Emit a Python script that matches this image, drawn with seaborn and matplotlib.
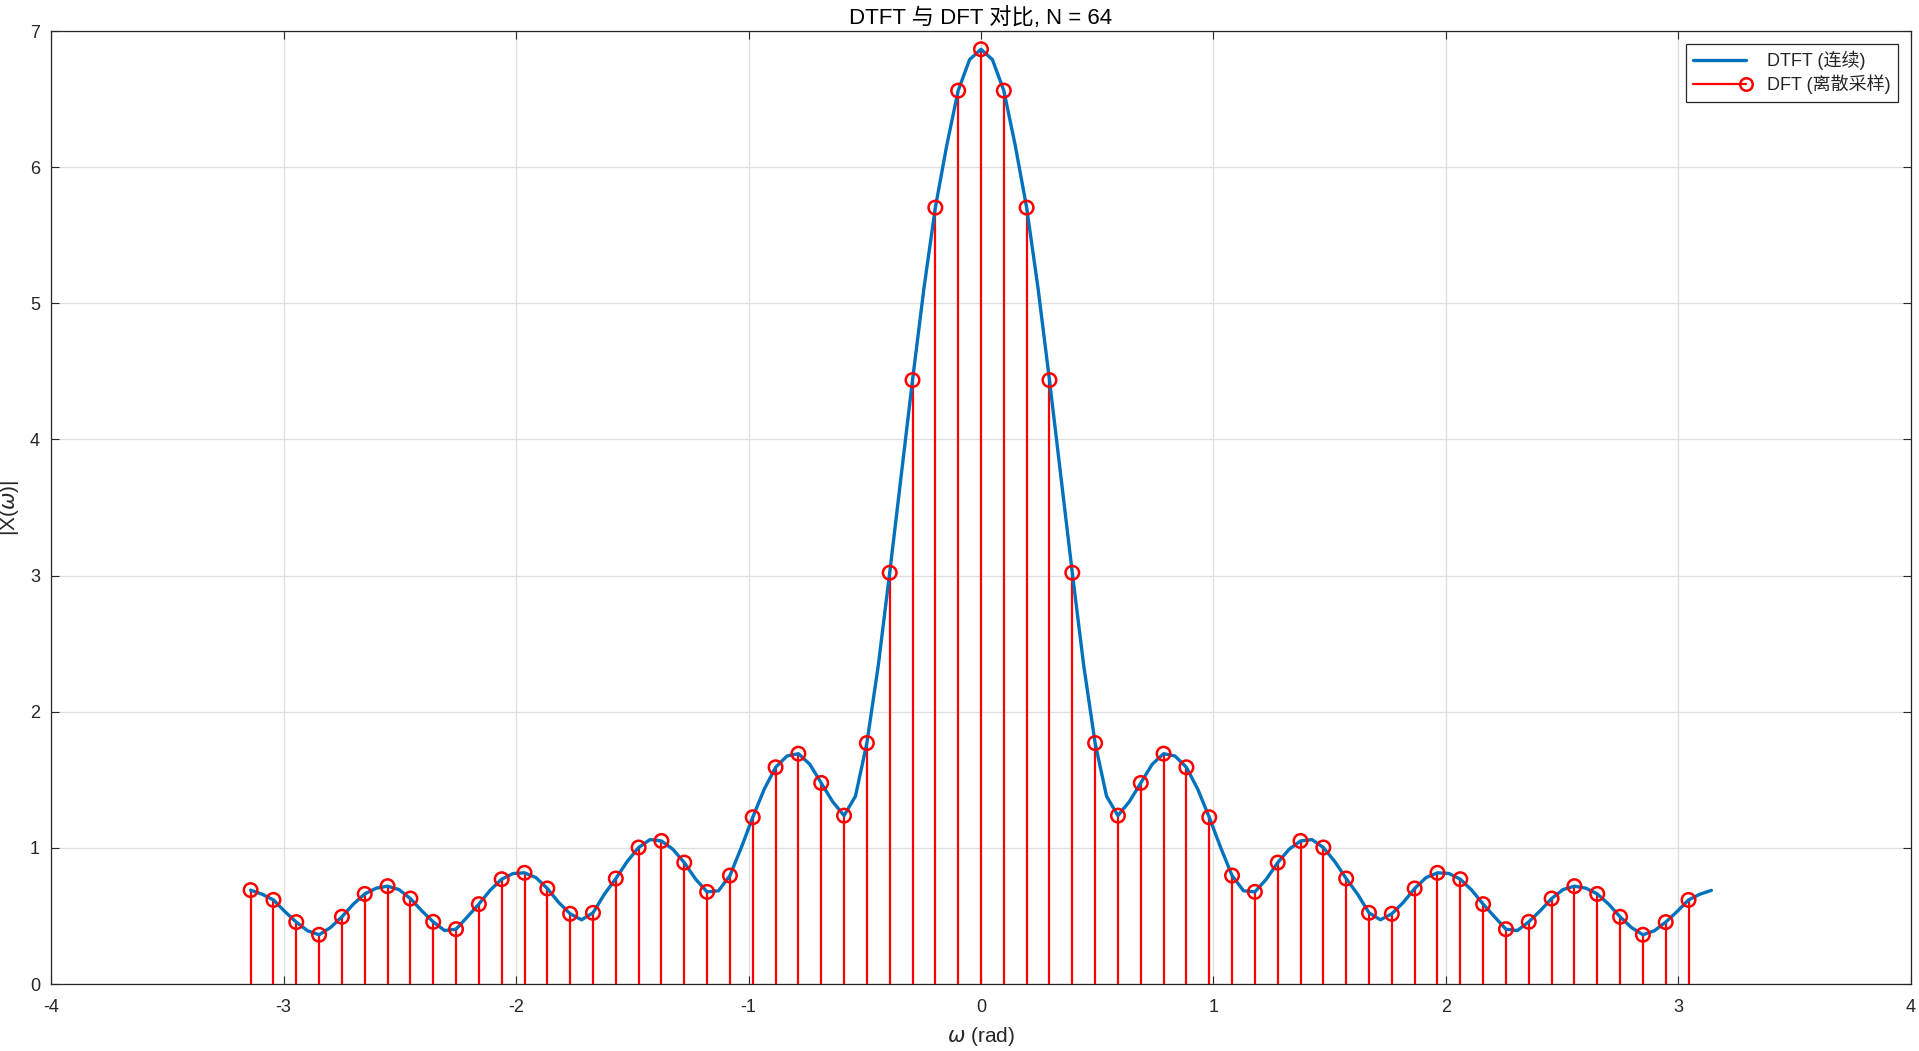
import numpy as np
import pandas as pd
import matplotlib
matplotlib.use("Agg")
import matplotlib.pyplot as plt
from matplotlib.lines import Line2D
from matplotlib.legend_handler import HandlerLine2D
import seaborn as sns

# 数据
N = 64
TITLE = "DTFT 与 DFT 对比, N = 64"
X_LABEL = r"$\omega$ (rad)"
Y_LABEL = r"|X($\omega$)|"
LEGEND_LABELS = ["DTFT (连续)", "DFT (离散采样)"]
X_TICKS = [-4, -3, -2, -1, 0, 1, 2, 3, 4]
Y_TICKS = [0, 1, 2, 3, 4, 5, 6, 7]

# DFT |X[k]|, k = 0..63, omega from -pi
dft_mag = [
    0.690, 0.618, 0.455, 0.362, 0.494, 0.662, 0.719, 0.628, 0.457, 0.403,
    0.587, 0.770, 0.817, 0.702, 0.516, 0.523, 0.775, 1.003, 1.051, 0.892,
    0.677, 0.797, 1.225, 1.592, 1.692, 1.477, 1.237, 1.770, 3.021, 4.436,
    5.703, 6.562, 6.866,
    6.562, 5.703, 4.436, 3.021, 1.770, 1.237, 1.477, 1.692, 1.592, 1.225,
    0.797, 0.677, 0.892, 1.051, 1.003, 0.775, 0.523, 0.516, 0.702, 0.817,
    0.770, 0.587, 0.403, 0.457, 0.628, 0.719, 0.662, 0.494, 0.362, 0.455,
    0.618,
]

# DTFT |X(w)| read at half-bin steps from -pi to pi
dtft_mag = [
    0.690, 0.660, 0.618, 0.533, 0.455, 0.391, 0.362, 0.415, 0.494, 0.587,
    0.662, 0.704, 0.719, 0.694, 0.628, 0.538, 0.457, 0.393, 0.403, 0.494,
    0.587, 0.690, 0.770, 0.812, 0.817, 0.782, 0.702, 0.599, 0.516, 0.472,
    0.523, 0.660, 0.775, 0.900, 1.003, 1.061, 1.051, 0.990, 0.892, 0.770,
    0.677, 0.685, 0.797, 1.003, 1.225, 1.430, 1.592, 1.675, 1.692, 1.614,
    1.477, 1.340, 1.237, 1.380, 1.770, 2.340, 3.021, 3.730, 4.436, 5.110,
    5.703, 6.160, 6.562, 6.790,
    6.866,
    6.790, 6.562, 6.160, 5.703, 5.110, 4.436, 3.730, 3.021, 2.340, 1.770,
    1.380, 1.237, 1.340, 1.477, 1.614, 1.692, 1.675, 1.592, 1.430, 1.225,
    1.003, 0.797, 0.685, 0.677, 0.770, 0.892, 0.990, 1.051, 1.061, 1.003,
    0.900, 0.775, 0.660, 0.523, 0.472, 0.516, 0.599, 0.702, 0.782, 0.817,
    0.812, 0.770, 0.690, 0.587, 0.494, 0.403, 0.393, 0.457, 0.538, 0.628,
    0.694, 0.719, 0.704, 0.662, 0.587, 0.494, 0.415, 0.362, 0.391, 0.455,
    0.533, 0.618, 0.660, 0.688,
]

dft_df = pd.DataFrame({
    "omega": -np.pi + 2 * np.pi * np.arange(N) / N,
    "mag": dft_mag,
})
dtft_df = pd.DataFrame({
    "omega": np.linspace(-np.pi, np.pi, len(dtft_mag)),
    "mag": dtft_mag,
})

# 스타일
sns.set_style("ticks")
plt.rcParams["font.family"] = ["Liberation Sans", "Noto Sans CJK SC", "DejaVu Sans"]
plt.rcParams["axes.unicode_minus"] = False
plt.rcParams["mathtext.fontset"] = "dejavusans"

BLUE = "#0072BD"
RED = "#FF0000"

fig = plt.figure(figsize=(19.19, 10.51), dpi=100)
ax = fig.add_axes([0.0266, 0.0637, 0.9692, 0.9068])

sns.lineplot(data=dtft_df, x="omega", y="mag", ax=ax, color=BLUE,
             linewidth=2.4, zorder=3, legend=False)
ax.vlines(dft_df["omega"], 0, dft_df["mag"], color=RED, linewidth=1.6, zorder=2)
sns.scatterplot(data=dft_df, x="omega", y="mag", ax=ax, marker="o",
                facecolor="none", edgecolor=RED, linewidth=1.8, s=95,
                zorder=4, legend=False)

ax.set_xlim(-4, 4)
ax.set_ylim(0, 7)
ax.set_xticks(X_TICKS)
ax.set_yticks(Y_TICKS)
ax.grid(True, color="#dedede", linewidth=0.9)
ax.set_axisbelow(True)
ax.tick_params(direction="in", top=True, right=True, length=6, width=0.8,
               labelsize=13, colors="#262626", pad=8)
ax.tick_params(axis="x", pad=11)
for s in ax.spines.values():
    s.set_color("#262626")
    s.set_linewidth(0.9)

ax.set_title(TITLE, fontsize=16, color="#000000", pad=5)
ax.set_xlabel(X_LABEL, fontsize=15, color="#262626", labelpad=6)
ax.set_ylabel(Y_LABEL, fontsize=15, color="#262626", labelpad=6)


class EndMarker(HandlerLine2D):
    def create_artists(self, *args, **kwargs):
        arts = super().create_artists(*args, **kwargs)
        for a in arts:
            if a.get_marker() not in (None, "None", ""):
                a.set_markevery([2])
        return arts


handles = [
    Line2D([], [], color=BLUE, linewidth=2.4),
    Line2D([], [], color=RED, linewidth=1.6, marker="o", markersize=9,
           markerfacecolor="none", markeredgewidth=1.8),
]
leg = ax.legend(handles, LEGEND_LABELS, loc="upper right", fontsize=13,
                frameon=True, fancybox=False, edgecolor="#262626",
                framealpha=1, numpoints=1, handlelength=2.9,
                borderaxespad=0.7, labelspacing=0.25, handletextpad=1.2,
                handler_map={handles[1]: EndMarker()})
leg.get_frame().set_linewidth(0.9)

fig.savefig("out.png", dpi=100)
